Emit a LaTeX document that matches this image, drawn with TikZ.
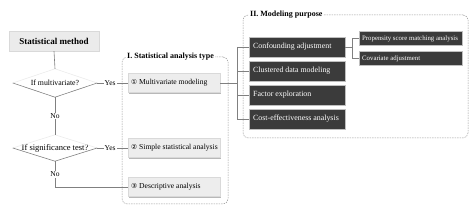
\documentclass[tikz,border=0pt]{standalone}
\usepackage{fontspec}
\setmainfont{Liberation Serif}
\newfontfamily\symfont{DejaVu Sans}
\usetikzlibrary{shapes.geometric,shadows}
\newcommand\mklft[2]{\makebox[#1][l]{#2}}
\newcommand\circnum[1]{{\symfont\fontsize{6.8}{9}\selectfont #1}}
\begin{document}
\begin{tikzpicture}[x=1pt,y=-1pt,
  conn/.style={draw=black!50, line width=0.6pt},
  faint/.style={draw=black!8, line width=0.6pt},
  lbl/.style={fill=white, inner sep=1pt, font=\fontsize{7.5}{9}\selectfont},
  titlebox/.style={fill=black!8, draw=black!15, drop shadow={shadow xshift=1.2pt, shadow yshift=-1.2pt, fill=black!30, opacity=1},
    minimum width=90pt, minimum height=20pt, inner sep=0pt, font=\bfseries\fontsize{9}{11}\selectfont},
  diabox/.style={shape=diamond, minimum width=84pt, minimum height=28pt, inner sep=0pt},
  diatext/.style={inner sep=0pt},
  lightbox/.style={fill=black!7, draw=black!15, drop shadow={shadow xshift=1.2pt, shadow yshift=-1.2pt, fill=black!28, opacity=1},
    minimum height=19pt, inner xsep=3pt, inner ysep=0pt, anchor=west, font=\fontsize{7.6}{9}\selectfont},
  darkbox/.style={fill=black!77, draw=black!25, text=white, minimum height=20pt, inner xsep=4pt, inner ysep=0pt,
    anchor=west, font=\fontsize{7.9}{9}\selectfont},
  smallbox/.style={fill=black!77, draw=black!25, text=white, minimum height=14pt, inner xsep=3pt, inner ysep=0pt,
    anchor=west, font=\fontsize{6.8}{8}\selectfont},
  groupbox/.style={draw=black!40, dash pattern=on 1.5pt off 1pt, rounded corners=5pt, line width=0.5pt, inner sep=0pt},
  grouptitle/.style={fill=white, inner xsep=1pt, inner ysep=1pt, anchor=west, font=\bfseries\fontsize{8}{10}\selectfont}
]
\useasboundingbox (0,0) rectangle (474,208);

% group frames
\node[groupbox, minimum width=106pt, minimum height=147pt] (g1) at (175,130.5) {};
\node[grouptitle] (t1) at (126,57) {I. Statistical analysis type};
\node[groupbox, minimum width=225pt, minimum height=123pt] (g2) at (355.5,76.5) {};
\node[grouptitle] (t2) at (249,15) {II. Modeling purpose};

% left flow
\node[titlebox] (sm) at (54,41) {Statistical method};
\node[diabox] (d1) at (55,83) {};
\node[diatext, font=\fontsize{7.8}{9}\selectfont] (d1t) at (d1.center) {If multivariate?};
\node[diabox, minimum height=26pt] (d2) at (55,148) {};
\node[diatext, font=\fontsize{8.5}{10}\selectfont] (d2t) at (d2.center) {If significance test?};

\draw[faint] (d1.west) -- (d1.north) -- (d1.east);
\draw[conn] (d1.west) -- (d1.south) -- (d1.east);
\draw[faint] (d2.west) -- (d2.north) -- (d2.east);
\draw[conn] (d2.west) -- (d2.south) -- (d2.east);

% analysis types
\node[lightbox] (mm) at (128,83) {\mklft{86pt}{\circnum{①} Multivariate modeling}};
\node[lightbox] (ss) at (128,148) {\mklft{86pt}{\circnum{②} Simple statistical analysis}};
\node[lightbox] (da) at (128,187) {\mklft{86pt}{\circnum{③} Descriptive analysis}};

\draw[conn] (sm.south) -- (d1.north);
\draw[conn] (d1.south) -- node[lbl] {No} (d2.north);
\draw[conn] (d1.east) -- node[lbl, pos=0.42] {Yes} (mm.west);
\draw[conn] (d2.east) -- node[lbl, pos=0.42] {Yes} (ss.west);
\draw[conn] (d2.south) |- node[lbl, pos=0.25] {No} (da.west);

% modeling purposes
\node[darkbox] (ca) at (249,47) {\mklft{88pt}{Confounding adjustment}};
\node[darkbox] (cd) at (249,71) {\mklft{88pt}{Clustered data modeling}};
\node[darkbox] (fe) at (249,95) {\mklft{88pt}{Factor exploration}};
\node[darkbox] (ce) at (249,119) {\mklft{88pt}{Cost-effectiveness analysis}};
\node[smallbox] (ps) at (359,38.5) {\mklft{97pt}{Propensity score matching analysis}};
\node[smallbox] (cv) at (359,58.5) {\mklft{97pt}{Covariate adjustment}};

\coordinate (tk) at (237,0);
\draw[conn] (mm.east) -- (mm.east -| tk);
\draw[conn] (ca.west -| tk) -- (ce.west -| tk);
\foreach \b in {ca,cd,fe,ce} \draw[conn] (\b.west -| tk) -- (\b.west);

\coordinate (tk2) at (352,0);
\draw[conn] (ca.east) -- (ca.east -| tk2);
\draw[conn] (ps.west -| tk2) -- (cv.west -| tk2);
\draw[conn] (ps.west -| tk2) -- (ps.west);
\draw[conn] (cv.west -| tk2) -- (cv.west);
\end{tikzpicture}
\end{document}
